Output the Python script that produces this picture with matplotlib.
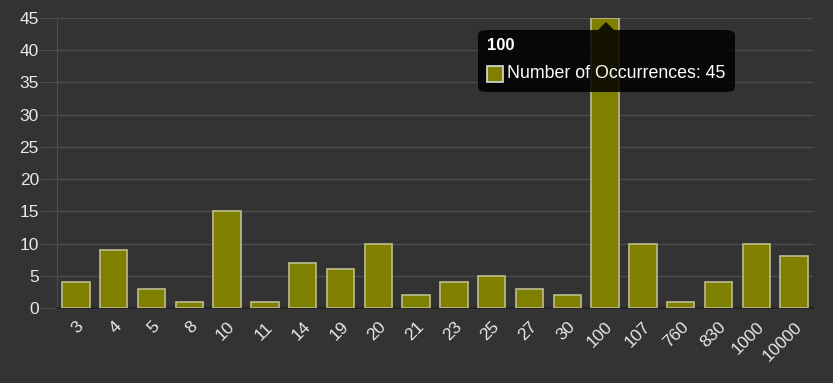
import matplotlib.pyplot as plt
from matplotlib.patches import FancyBboxPatch, Rectangle, Polygon

# data
labels = ['3', '4', '5', '8', '10', '11', '14', '19', '20', '21',
          '23', '25', '27', '30', '100', '107', '760', '830', '1000', '10000']
counts = [4, 9, 3, 1, 15, 1, 7, 6, 10, 2, 4, 5, 3, 2, 45, 10, 1, 4, 10, 8]
series_name = 'Number of Occurrences'
y_ticks = [0, 5, 10, 15, 20, 25, 30, 35, 40, 45]
hover_idx = 14  # the "100" bar has the tooltip

bg = '#333333'
bar_color = '#808000'
text_color = '#e8e8e8'
grid_color = '#4d4d4d'

plt.rcParams['font.family'] = ['Liberation Sans', 'DejaVu Sans']

W, H = 833, 383
fig = plt.figure(figsize=(W / 100, H / 100), dpi=100, facecolor=bg)
ax = fig.add_axes([57 / W, 1 - 308 / H, (813 - 57) / W, (308 - 18) / H])
ax.set_facecolor(bg)

x = list(range(len(labels)))
ax.bar(x, counts, width=0.72, color=bar_color, edgecolor='#bdbd8e',
       linewidth=1.2, zorder=3)

ax.set_xlim(-0.5, len(labels) - 0.5)
ax.set_ylim(0, 45)
ax.set_yticks(y_ticks)
ax.set_xticks(x)
ax.set_xticklabels(labels, rotation=45, ha='right', rotation_mode='anchor',
                   color=text_color, fontsize=12.5)
ax.tick_params(axis='x', length=0, pad=8)
ax.tick_params(axis='y', length=12, color=grid_color, colors=text_color,
               labelsize=12.5, pad=1)
ax.yaxis.grid(True, color=grid_color, linewidth=1, zorder=0)
ax.xaxis.grid(False)

for side in ['top', 'right']:
    ax.spines[side].set_visible(False)
ax.spines['left'].set_color(grid_color)
ax.spines['bottom'].set_color('#222222')
ax.spines['bottom'].set_linewidth(1.2)

# tooltip for the hovered bar
def px(xp, yp):
    return xp / W, 1 - yp / H

tx0, ty0 = px(478, 92)
tw, th = 257 / W, 62 / H
box = FancyBboxPatch((tx0, ty0), tw, th, boxstyle='round,pad=0,rounding_size=0.012',
                     transform=fig.transFigure, facecolor='black', alpha=0.85,
                     edgecolor='none', zorder=10)
fig.patches.append(box)
caret = Polygon([px(598, 30), px(614, 30), px(606, 22)], closed=True,
                transform=fig.transFigure, facecolor='black', alpha=0.85,
                edgecolor='none', zorder=10)
fig.patches.append(caret)

fig.text(*px(487, 46), labels[hover_idx], color='white', fontsize=12,
         fontweight='bold', va='center', ha='left', zorder=11)
sx, sy = px(487, 82)
swatch = Rectangle((sx, sy), 16 / W, 16 / H, transform=fig.transFigure,
                   facecolor=bar_color, edgecolor='#dddddd', linewidth=1.2,
                   zorder=11)
fig.patches.append(swatch)
fig.text(*px(507, 74), f'{series_name}: {counts[hover_idx]}', color='white',
         fontsize=12.8, va='center', ha='left', zorder=11)

fig.savefig('out.png', dpi=100, facecolor=bg)
